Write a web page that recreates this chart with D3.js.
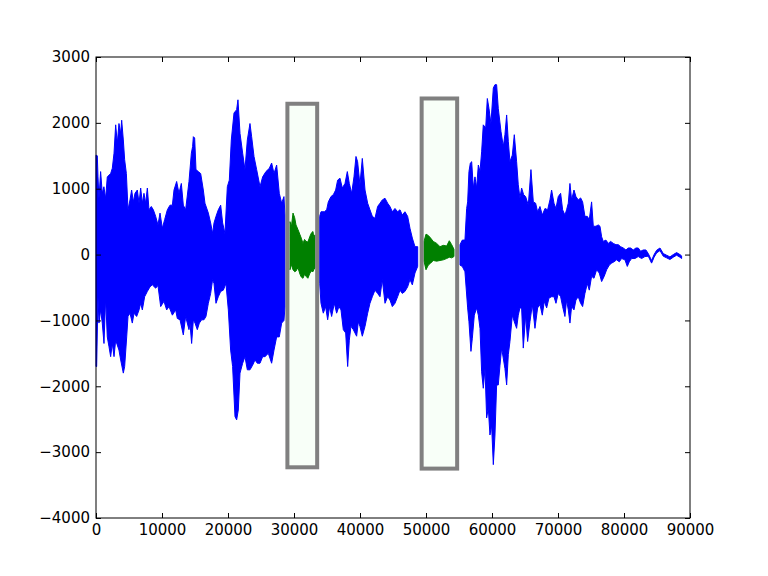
<!DOCTYPE html>
<html>
<head>
<meta charset="utf-8">
<script src="https://cdn.jsdelivr.net/npm/d3@7"></script>
<style>
  html, body { margin: 0; padding: 0; background: #ffffff; }
  svg { display: block; }
  .tick text { font-family: "DejaVu Sans", sans-serif; font-size: 15px; fill: #000; }
</style>
</head>
<body>
<svg id="chart" width="768" height="576"></svg>
<script>
// ---------------- data ----------------
const xTicks = [0, 10000, 20000, 30000, 40000, 50000, 60000, 70000, 80000, 90000];
const yTicks = [-4000, -3000, -2000, -1000, 0, 1000, 2000, 3000];

// highlighted (quiet) regions
const highlightStart  = [29000, 49340];
const highlightEnd    = [33510, 54720];
const highlightTop    = [2290, 2370];
const highlightBottom = [-3230, -3250];

// upper envelope of the waveform: sample index / amplitude
const upperIdx = [
  0,200,300,450,700,950,1200,1460,1710,2220,2470,2730,2980,3230,3480,3740,3890,4140,4340,4600,
  4850,5150,5400,5660,5910,6260,6520,6770,7020,7270,7520,7780,8030,8380,8690,9040,9390,9700,10050,10400,
  10810,11210,11570,11820,12220,12570,12930,13230,13580,14090,14450,14640,14750,14950,15150,15500,15860,16260,16510,17020,
  17370,17670,17880,18180,18530,18890,19190,19540,19900,20200,20500,20910,21310,21510,21820,22220,22570,22930,23330,23580,
  23940,24340,24850,25250,25750,26260,26610,26970,27370,27770,28130,28480,28630,
  29390,29600,29850,30100,30300,30600,30910,31100,31360,31600,31820,32100,32420,32650,32880,33000,33180,
  33890,34090,34600,34950,35200,35600,35960,36310,36610,36970,37320,37730,38080,38380,38740,39090,39390,39640,39990,40350,
  40760,41160,41510,41870,42270,42670,43030,43380,43790,44190,44540,44900,45300,45700,46060,46410,46810,47220,47570,47930,
  48330,48740,
  49700,50000,50350,50700,51100,51610,52120,52620,53130,53530,53890,54240,
  55150,55500,55900,56160,56310,56510,56720,56920,57170,57420,57670,57930,58180,58430,58680,59040,59290,59540,59840,60200,
  60450,60700,60950,61360,61710,61960,62220,62470,62720,63080,63380,63730,63980,64230,64490,64790,65100,65500,65900,66260,
  66610,66910,67270,67620,68030,68430,68780,69030,69390,69690,70040,70400,70700,71050,71300,71560,71810,72060,72420,72720,
  73070,73430,73730,74080,74440,74740,75090,75350,75750,76100,76360,76610,76860,77260,77620,77970,78380,78780,79140,79490,
  79890,80290,80650,81000,81400,81810,82160,82520,82920,83320,83680,84180,84560,84940,85450,85950,86460,86960,87470,87970,
  88480,88730
];
const upperVal = [
  1510,1500,1180,850,1260,930,1030,850,1180,1230,1310,1540,1970,1690,1990,1840,2040,1740,1440,1230,
  680,830,980,800,930,980,780,1010,780,930,780,1010,680,730,680,580,450,630,400,530,
  680,750,750,980,1110,930,1080,750,680,1110,1540,1640,1790,1770,1290,1260,1230,980,780,630,
  480,320,480,580,680,750,480,320,1030,1130,1740,2150,2200,2350,1840,1540,1290,1740,1990,1790,
  1490,1290,1030,1180,1260,1310,1390,1230,1360,930,780,880,600,
  500,420,630,560,450,380,300,250,170,230,200,190,280,330,350,250,300,
  580,650,650,680,800,880,910,980,1130,1160,1010,1080,1260,1080,930,1180,1490,1410,1060,1460,
  980,780,680,580,550,730,780,830,855,780,730,650,700,650,680,600,650,580,400,250,
  120,120,
  200,310,290,250,200,170,120,140,130,210,150,80,
  150,220,220,700,800,1260,1390,1410,1010,1180,1010,1360,1260,1560,1970,1920,2370,2220,1990,2530,
  2580,2580,2220,1870,1640,1820,2120,1720,1410,1510,1820,1410,1060,860,1010,910,880,750,1290,800,
  780,650,730,600,700,680,830,980,780,700,880,930,680,600,680,780,1080,830,980,880,
  830,860,800,580,580,530,800,430,430,450,430,270,200,220,170,200,170,150,150,120,
  100,70,100,100,70,100,100,50,70,70,15,-90,0,65,100,15,-10,-35,0,30,
  0,-20
];

// lower envelope of the waveform: sample index / amplitude
const lowerIdx = [
  0,100,300,450,700,950,1210,1460,1710,1970,2220,2470,2730,2980,3480,3740,4140,4340,4650,4850,
  5150,5500,5760,6160,6520,6770,7020,7370,7780,8180,8530,9040,9390,9800,10300,10710,11060,11570,12070,12320,
  12730,13230,13580,14090,14240,14490,14750,15000,15350,15660,16010,16360,16660,17020,17370,17670,17880,18180,18530,18890,
  19290,19690,20050,20400,20700,21060,21310,21560,21820,22220,22570,22930,23330,23730,24090,24440,24850,25250,25600,26110,
  26610,26970,27370,27770,28130,28480,28630,
  29390,29600,29850,30100,30300,30600,30910,31100,31360,31600,31820,32100,32420,32650,32880,33000,33180,
  33890,34090,34440,34790,35100,35400,35700,36110,36460,36810,37120,37470,37830,38130,38380,38630,38990,39240,39490,39750,
  39990,40350,40760,41160,41510,41870,42270,42670,43030,43380,43790,44190,44540,44900,45300,45700,46060,46410,46810,47220,
  47570,47930,48330,48740,
  49700,50000,50350,50700,51100,51610,52120,52620,53130,53530,53890,54240,
  55150,55500,55900,56310,56510,56810,57020,57320,57670,57930,58180,58430,58680,58940,59190,59440,59690,59940,60200,60450,
  60700,60950,61210,61460,61960,62220,62470,62720,63080,63380,63730,63980,64230,64490,64740,65100,65400,65750,66110,66510,
  66910,67270,67620,67920,68280,68630,69030,69390,69690,70040,70400,70700,71050,71300,71560,71810,72060,72420,72720,73070,
  73430,73730,74080,74440,74740,75090,75450,75850,76250,76610,77000,77370,77770,78120,78480,78880,79290,79640,80140,80500,
  80800,81150,81660,82160,82670,83170,83680,84180,84560,84940,85450,85950,86460,86960,87470,87970,88480,88730
];
const lowerVal = [
  -1700,-1700,-640,-1040,-840,-1040,-1350,-660,-1250,-1400,-1550,-1350,-1550,-1300,-1450,-1600,-1800,-1700,-1250,-940,
  -890,-1040,-890,-940,-840,-740,-840,-640,-560,-490,-460,-510,-470,-790,-710,-840,-790,-920,-840,-970,
  -990,-1220,-940,-1140,-1040,-1350,-990,-1040,-1140,-1040,-990,-990,-940,-740,-590,-380,-440,-740,-640,-560,
  -540,-440,-840,-1450,-1700,-2460,-2510,-2360,-1800,-1650,-1550,-1750,-1750,-1680,-1600,-1650,-1650,-1550,-1550,-1500,
  -1650,-1450,-1250,-1250,-1040,-1000,-800,
  -230,-150,-230,-260,-250,-200,-300,-340,-360,-300,-330,-360,-280,-250,-260,-230,-200,
  -435,-740,-890,-790,-990,-790,-940,-740,-890,-790,-840,-1140,-1190,-1700,-1300,-1090,-1140,-1190,-1240,-1020,
  -1090,-1240,-1090,-890,-740,-640,-540,-590,-640,-380,-740,-640,-690,-790,-740,-640,-540,-590,-560,-490,
  -380,-460,-280,-180,
  -100,-230,-160,-130,-90,-100,-90,-80,-60,-40,-50,-30,
  -160,-180,-260,-810,-1020,-1470,-1270,-920,-810,-920,-1120,-1780,-2030,-1730,-2480,-2330,-2740,-2590,-3190,-2740,
  -1980,-1980,-1680,-1420,-1730,-1980,-1520,-1320,-920,-1020,-1120,-920,-810,-810,-1420,-920,-1320,-1020,-760,-1120,
  -810,-760,-920,-710,-810,-660,-640,-640,-740,-590,-640,-790,-940,-690,-840,-1040,-790,-840,-690,-640,
  -740,-790,-590,-440,-540,-330,-360,-230,-280,-410,-330,-230,-160,-130,-110,-80,-110,-60,-80,-180,
  -110,-60,-60,-30,-60,-30,-25,-130,-40,25,60,-25,-50,-75,-40,-10,-40,-60
];

// ---------------- layout ----------------
(function () {
  const svg = d3.select("#chart");
  const mLeft = 96, mRight = 690, mTop = 57, mBottom = 518;

  const x = d3.scaleLinear().domain([0, 90000]).range([mLeft, mRight]);
  const y = d3.scaleLinear().domain([-4000, 3000]).range([mBottom, mTop]);

  const rects = highlightStart.map((s, i) => ({
    x0: s, x1: highlightEnd[i], y0: highlightBottom[i], y1: highlightTop[i]
  }));

  // highlight rectangle fills
  svg.append("g").selectAll("rect").data(rects).join("rect")
    .attr("x", d => x(d.x0)).attr("y", d => y(d.y1))
    .attr("width", d => x(d.x1) - x(d.x0))
    .attr("height", d => y(d.y0) - y(d.y1))
    .attr("fill", "#f8fff8");

  // zone: number of highlight edges passed (odd => inside a highlight)
  const edges = [...highlightStart, ...highlightEnd].sort((a, b) => a - b);
  const zoneOf = v => edges.filter(e => e <= v).length;

  const upper = upperIdx.map((v, i) => ({ i: v, a: upperVal[i] }));
  const lower = lowerIdx.map((v, i) => ({ i: v, a: lowerVal[i] }));

  const line = d3.line().x(d => x(d.i)).y(d => y(d.a)).curve(d3.curveLinearClosed);

  const wave = svg.append("g");
  for (let z = 0; z <= edges.length; z++) {
    const up = upper.filter(d => zoneOf(d.i) === z);
    const lo = lower.filter(d => zoneOf(d.i) === z).reverse();
    if (!up.length) continue;
    const color = (z % 2 === 1) ? "#008000" : "#0000ff";
    wave.append("path")
      .attr("d", line(up.concat(lo)))
      .attr("fill", color)
      .attr("stroke", color)
      .attr("stroke-width", 1)
      .attr("stroke-linejoin", "round");
  }

  // highlight rectangle borders
  svg.append("g").selectAll("rect").data(rects).join("rect")
    .attr("x", d => x(d.x0)).attr("y", d => y(d.y1))
    .attr("width", d => x(d.x1) - x(d.x0))
    .attr("height", d => y(d.y0) - y(d.y1))
    .attr("fill", "none")
    .attr("stroke", "#808080")
    .attr("stroke-width", 4);

  // ---------------- axes ----------------
  const fmt = d3.format("d");
  const tickLen = 5;

  const gB = svg.append("g").attr("transform", `translate(0,${mBottom})`)
    .call(d3.axisBottom(x).tickValues(xTicks).tickFormat(fmt).tickSize(-tickLen).tickPadding(6));
  const gT = svg.append("g").attr("transform", `translate(0,${mTop})`)
    .call(d3.axisTop(x).tickValues(xTicks).tickFormat("").tickSize(-tickLen));
  const gL = svg.append("g").attr("transform", `translate(${mLeft},0)`)
    .call(d3.axisLeft(y).tickValues(yTicks).tickFormat(fmt).tickSize(-tickLen).tickPadding(6));
  const gR = svg.append("g").attr("transform", `translate(${mRight},0)`)
    .call(d3.axisRight(y).tickValues(yTicks).tickFormat("").tickSize(-tickLen));

  [gB, gT, gL, gR].forEach(g => {
    g.select(".domain").remove();
    g.selectAll(".tick line").attr("stroke", "#000").attr("stroke-width", 1);
  });

  // frame
  svg.append("rect")
    .attr("x", mLeft).attr("y", mTop)
    .attr("width", mRight - mLeft).attr("height", mBottom - mTop)
    .attr("fill", "none").attr("stroke", "#000").attr("stroke-width", 1);
})();
</script>
</body>
</html>
